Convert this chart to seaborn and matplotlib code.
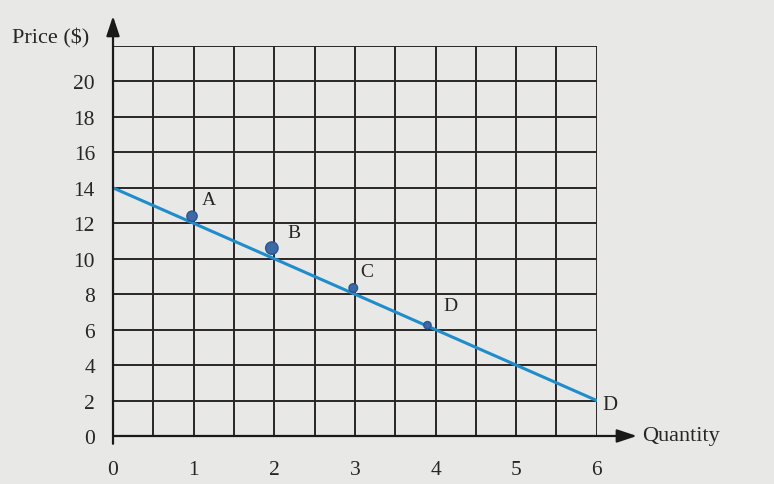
import matplotlib
matplotlib.use('Agg')
from matplotlib import pyplot as plt
import seaborn as sns
import pandas as pd
import numpy as np

# datos de la curva de demanda y puntos marcados
demand_q = [0, 6]
demand_p = [14, 2]
point_names = ['A', 'B', 'C', 'D']
point_q = [0.98, 1.97, 2.98, 3.9]
point_p = [12.4, 10.6, 8.35, 6.25]
point_sizes = [55, 80, 38, 28]
y_ticks = [0, 2, 4, 6, 8, 10, 12, 14, 16, 18, 20]
x_ticks = [0, 1, 2, 3, 4, 5, 6]

sns.set_style('white')
plt.rcParams['font.family'] = ['Liberation Serif', 'DejaVu Serif']

bg = '#e8e8e6'
fig = plt.figure(figsize=(7.74, 4.85), dpi=100, facecolor=bg)
ax = fig.add_axes([0.146, 0.099, 0.625, 0.804])
ax.set_facecolor(bg)

# cuadricula
ax.set_xlim(0, 6)
ax.set_ylim(0, 22)
ax.set_xticks(x_ticks)
ax.set_xticks(np.arange(0.5, 6, 1), minor=True)
ax.set_yticks(y_ticks)
ax.set_yticks([22], minor=True)
grid_col = '#2a2626'
ax.grid(True, which='both', color=grid_col, linewidth=1.4)
ax.tick_params(axis='x', which='both', length=6, width=1.4, color=grid_col,
               labelsize=15.5, pad=11)
ax.tick_params(axis='y', which='major', length=6, width=1.4, color=grid_col,
               labelsize=15.5, pad=7)
ax.tick_params(axis='y', which='minor', length=0)
for s in ax.spines.values():
    s.set_visible(False)
ax.set_axisbelow(True)

df_line = pd.DataFrame({'q': demand_q, 'p': demand_p})
sns.lineplot(data=df_line, x='q', y='p', ax=ax, color='#1f8ccc', linewidth=2.2,
             zorder=3)

df_pts = pd.DataFrame({'q': point_q, 'p': point_p, 's': point_sizes})
sns.scatterplot(data=df_pts, x='q', y='p', size='s', sizes=(min(point_sizes), max(point_sizes)),
                color='#3d6aa6', edgecolor='#2b5590', linewidth=1, legend=False,
                ax=ax, zorder=4)
ax.set_xlabel('')
ax.set_ylabel('')

# etiquetas de los puntos
label_off = [(0.21, 0.95), (0.28, 0.9), (0.17, 0.95), (0.28, 1.1)]
for n, q, p, (dx, dy) in zip(point_names, point_q, point_p, label_off):
    ax.text(q + dx, p + dy, n, fontsize=14, ha='center', va='center')
ax.text(demand_q[1] + 0.16, demand_p[1] - 0.2, 'D', fontsize=15, ha='center', va='center')

# flechas de los ejes
arrow = dict(arrowstyle='-|>,head_length=1.2,head_width=0.4', color='#1a1a1a',
             lw=1.6, shrinkA=0, shrinkB=0)
ax.annotate('', xy=(0, 1.077), xytext=(0, -0.02), xycoords='axes fraction',
            arrowprops=arrow, annotation_clip=False)
ax.annotate('', xy=(1.083, 0), xytext=(0, 0), xycoords='axes fraction',
            arrowprops=arrow, annotation_clip=False)
fig.text(0.015, 0.92, 'Price ($)', fontsize=16, ha='left', va='center')
fig.text(0.829, 0.099, 'Quantity', fontsize=16, ha='left', va='center')

fig.savefig('out.png', dpi=100, facecolor=bg)
